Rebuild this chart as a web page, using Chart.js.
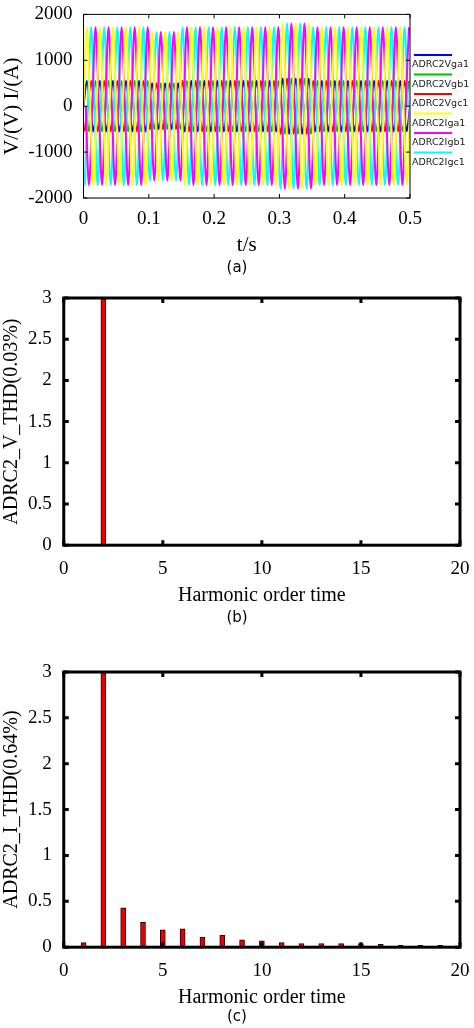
<!DOCTYPE html>
<html><head><meta charset="utf-8">
<script src="https://cdn.jsdelivr.net/npm/chart.js@4/dist/chart.umd.min.js"></script>
<style>
body{margin:0;background:#fff;width:474px;height:1028px;overflow:hidden;font-family:"Liberation Serif",serif}
.p{position:relative;width:474px}
canvas{display:block}
.cap{position:absolute;left:0;width:474px;text-align:center;font:15px "DejaVu Sans",sans-serif}
</style></head><body>
<div class="p" style="height:280px"><canvas id="a" width="474" height="280"></canvas><div class="cap" style="top:258px">(a)</div></div>
<div class="p" style="height:352px"><canvas id="b" width="474" height="352"></canvas><div class="cap" style="top:328px">(b)</div></div>
<div class="p" style="height:396px"><canvas id="c" width="474" height="396"></canvas><div class="cap" style="top:375px">(c)</div></div>
<script>
// panel (a): peak amplitude of each 0.05 s segment
const segStarts = [0, 0.05, 0.1, 0.15, 0.2, 0.25, 0.3, 0.35, 0.4, 0.45]
const currentAmp = [1720, 1720, 1620, 1720, 1720, 1720, 1800, 1720, 1720, 1720]
const voltageAmp = [550, 550, 500, 550, 550, 550, 600, 550, 550, 550]
const phaseNames = ['ADRC2Vga1', 'ADRC2Vgb1', 'ADRC2Vgc1', 'ADRC2Iga1', 'ADRC2Igb1', 'ADRC2Igc1']
const phaseColors = ['#0000ff', '#00c000', '#ff0000', '#ffff00', '#ff00ff', '#00ffff']
const phaseShift = [0, 1 / 3, 2 / 3, 0, 1 / 3, 2 / 3]

// panels (b) and (c): harmonic spectrum
const orders = [1, 2, 3, 4, 5, 6, 7, 8, 9, 10, 11, 12, 13, 14, 15, 16, 17, 18, 19]
const vThd = [0, 3.2, 0, 0, 0, 0, 0, 0, 0, 0, 0, 0, 0, 0, 0, 0, 0, 0, 0]
const iThd = [0.05, 3.2, 0.43, 0.27, 0.19, 0.2, 0.11, 0.13, 0.08, 0.07, 0.05, 0.04, 0.04, 0.04, 0.04, 0.03, 0.02, 0.02, 0.02]

const period = 0.02
function wave(amps, shift) {
  // peaks and zero crossings only; smoothed by the line tension
  const pts = []
  const t0 = -shift * period
  for (let k = 0; ; k++) {
    const t = t0 + k * period / 4
    if (t > 0.5) break
    if (t < 0) continue
    let seg = segStarts.length - 1
    while (segStarts[seg] > t) seg--
    const m = k % 4
    const y = m === 1 ? amps[seg] : m === 3 ? -amps[seg] : 0
    pts.push({ x: t, y })
  }
  return pts
}

const serif = '"Liberation Serif", serif'
const plain = (v) => String(v)

function boxPlugin(lw, tickLen) {
  return {
    id: 'box',
    afterDraw(chart) {
      const { ctx, chartArea: a, scales } = chart
      ctx.save()
      ctx.strokeStyle = '#000'
      ctx.lineWidth = lw
      ctx.strokeRect(a.left, a.top, a.right - a.left, a.bottom - a.top)
      ctx.beginPath()
      scales.x.ticks.forEach((t) => {
        const x = scales.x.getPixelForValue(t.value)
        ctx.moveTo(x, a.bottom); ctx.lineTo(x, a.bottom - tickLen)
        ctx.moveTo(x, a.top); ctx.lineTo(x, a.top + tickLen)
      })
      scales.y.ticks.forEach((t) => {
        const y = scales.y.getPixelForValue(t.value)
        ctx.moveTo(a.left, y); ctx.lineTo(a.left + tickLen, y)
        ctx.moveTo(a.right, y); ctx.lineTo(a.right - tickLen, y)
      })
      ctx.stroke()
      ctx.restore()
    },
  }
}

const legendPlugin = {
  id: 'sideLegend',
  afterDraw(chart) {
    const { ctx } = chart
    ctx.save()
    ctx.font = '9.5px "DejaVu Sans", sans-serif'
    ctx.textBaseline = 'middle'
    phaseNames.forEach((n, i) => {
      const y = 55 + i * 19.5
      ctx.strokeStyle = phaseColors[i]
      ctx.lineWidth = 2
      ctx.beginPath(); ctx.moveTo(414, y); ctx.lineTo(452, y); ctx.stroke()
      ctx.fillStyle = '#222'
      ctx.fillText(n, 412, y + 10)
    })
    ctx.restore()
  },
}

const aSets = phaseNames.map((n, i) => ({
  label: n,
  data: wave(i < 3 ? voltageAmp : currentAmp, phaseShift[i]),
  borderColor: phaseColors[i],
  borderWidth: 2,
  pointRadius: 0,
  tension: 0.4,
  cubicInterpolationMode: 'monotone',
  order: i < 3 ? 1 : 0,
}))

new Chart(document.getElementById('a'), {
  type: 'line',
  data: { datasets: aSets },
  options: {
    responsive: false, animation: false,
    layout: { padding: { top: 6, right: 64, bottom: 22 } },
    plugins: { legend: { display: false }, tooltip: { enabled: false } },
    scales: {
      x: {
        type: 'linear', min: 0, max: 0.5,
        ticks: { stepSize: 0.1, color: '#000', font: { family: serif, size: 19 }, padding: 2, callback: (v) => String(+v.toFixed(1)) },
        grid: { display: false },
        title: { display: true, text: 't/s', color: '#000', font: { family: serif, size: 21 }, padding: 0 },
      },
      y: {
        min: -2000, max: 2000,
        ticks: { stepSize: 1000, color: '#000', font: { family: serif, size: 19 }, callback: plain },
        grid: { display: false },
        title: { display: true, text: 'V/(V) I/(A)', color: '#000', font: { family: serif, size: 21 }, padding: 0 },
      },
    },
  },
  plugins: [boxPlugin(1, 4), legendPlugin],
})

function spectrum(id, values, label, pad) {
  new Chart(document.getElementById(id), {
    type: 'bar',
    data: { datasets: [{
      data: orders.map((o, i) => ({ x: o, y: values[i] })),
      backgroundColor: '#e80000', borderColor: '#300000', borderWidth: 1,
      barThickness: 5,
    }] },
    options: {
      responsive: false, animation: false,
      layout: { padding: pad },
      plugins: { legend: { display: false }, tooltip: { enabled: false } },
      scales: {
        x: {
          type: 'linear', min: 0, max: 20, offset: false,
          ticks: { stepSize: 5, color: '#000', font: { family: serif, size: 19 }, padding: 4 },
          grid: { display: false, offset: false },
          title: { display: true, text: 'Harmonic order time', color: '#000', font: { family: serif, size: 20 }, padding: 0 },
        },
        y: {
          min: 0, max: 3,
          ticks: { stepSize: 0.5, color: '#000', font: { family: serif, size: 19 }, padding: 4, callback: plain },
          grid: { display: false },
          title: { display: true, text: label, color: '#000', font: { family: serif, size: 20 }, padding: 0 },
        },
      },
    },
    plugins: [boxPlugin(3, 5)],
  })
}
spectrum('b', vThd, 'ADRC2_V_THD(0.03%)', { top: 18, right: 14, bottom: 24 })
spectrum('c', iThd, 'ADRC2_I_THD(0.64%)', { top: 40, right: 14, bottom: 18 })
</script>
</body></html>
